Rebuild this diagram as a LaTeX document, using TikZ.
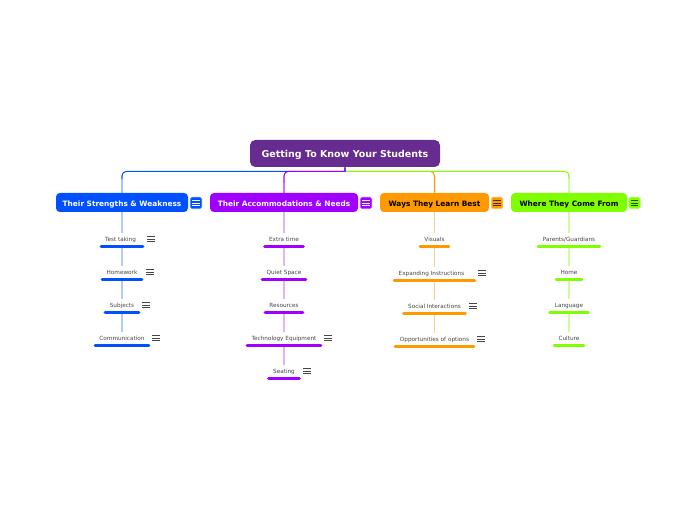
\documentclass[tikz,border=0pt]{standalone}
\usepackage{fontspec}
\setmainfont{DejaVu Sans}
\usetikzlibrary{calc}
\pgfdeclarelayer{bg}
\pgfsetlayers{bg,main}
\definecolor{cRoot}{HTML}{662C90}
\definecolor{cBlue}{HTML}{0050FF}
\definecolor{cPurple}{HTML}{A000FF}
\definecolor{cOrange}{HTML}{FF9900}
\definecolor{cGreen}{HTML}{80FF00}
\definecolor{cText}{RGB}{70,70,70}
\newcommand{\px}{0.02cm}

\begin{document}
\begin{tikzpicture}[x=0.02cm,y=-0.02cm,
    topic/.style={rounded corners=2.2pt, inner sep=0, minimum height=19*\px, text height=4pt, text depth=0pt, font=\fontsize{4.2}{5}\selectfont\bfseries},
    root/.style={topic, fill=cRoot, text=white, minimum width=190*\px, minimum height=27*\px, rounded corners=3pt, text height=4.6pt, font=\fontsize{5.4}{6}\selectfont\bfseries},
    note/.style={rounded corners=1pt, inner sep=0, minimum size=11.5*\px, fill=#1, draw=#1!65!white, line width=0.3pt},
    sub/.style={inner sep=0, minimum height=13*\px, text height=2.6pt, text depth=0.8pt, text=cText, font=\fontsize{3.25}{4}\selectfont},
    bar/.style={line width=1.6pt, line cap=round, shorten >=0.8pt, shorten <=0.8pt},
    link/.style={line width=0.6pt},
    menu/.pic={
      \draw[line width=0.3pt] (-3.7,-2.7) -- (3.7,-2.7) (-3.7,0) -- (3.7,0) (-3.7,2.7) -- (3.7,2.7);
    }]
      \useasboundingbox (0,0) rectangle (697,520);
      \node[root] (top) at (345,153.5) {Getting To Know Your Students};
      \node[topic, fill=cBlue, text=white, minimum width=132*\px] (strengths) at (122,202.5) {Their Strengths \& Weakness};
      \node[topic, fill=cPurple, text=white, minimum width=148*\px] (accom) at (284,202.5) {Their Accommodations \& Needs};
      \node[topic, fill=cOrange, text=black, minimum width=109*\px] (learn) at (434.5,202.5) {Ways They Learn Best};
      \node[topic, fill=cGreen, text=black, minimum width=116*\px] (from) at (569,202.5) {Where They Come From};

      \node[note=cBlue] (nstrengths) at (196,203) {};
      \node[note=cPurple] (naccom) at (366,203) {};
      \node[note=cOrange] (nlearn) at (497,203) {};
      \node[note=cGreen] (nfrom) at (634.5,203) {};
      \pic[color=white] at (nstrengths) {menu};
      \pic[color=white] at (naccom) {menu};
      \pic[color=black!70!cOrange] at (nlearn) {menu};
      \pic[color=black!70!cGreen] at (nfrom) {menu};

      % first column
      \node[sub, minimum width=44*\px] (test) at (122,240) {Test taking\hspace*{1.7pt}};
      \node[sub, minimum width=42*\px] (home) at (122,273) {Homework};
      \node[sub, minimum width=36*\px] (subj) at (122,306) {Subjects};
      \node[sub, minimum width=56*\px] (comm) at (122,339) {Communication};
      % second column
      \node[sub, minimum width=41*\px] (extra) at (284,240) {Extra time};
      \node[sub, minimum width=46*\px] (quiet) at (284,273) {Quiet Space};
      \node[sub, minimum width=40*\px] (res) at (284,306) {Resources};
      \node[sub, minimum width=76*\px] (tech) at (284,339) {Technology Equipment};
      \node[sub, minimum width=33*\px] (seat) at (284,372) {Seating};
      % third column
      \node[sub, minimum width=31*\px] (vis) at (434.5,240) {Visuals};
      \node[sub, minimum width=83*\px] (expand) at (434.5,274) {Expanding Instructions\hspace*{3.4pt}};
      \node[sub, minimum width=64*\px] (social) at (434.5,307) {Social Interactions};
      \node[sub, minimum width=81*\px] (opp) at (434.5,340) {Opportunities of options};
      % fourth column
      \node[sub, minimum width=64*\px] (parents) at (569,240) {Parents/Guardians};
      \node[sub, minimum width=28*\px] (house) at (569,273) {Home};
      \node[sub, minimum width=41*\px] (lang) at (569,306) {Language};
      \node[sub, minimum width=32*\px] (cult) at (569,339) {Culture};

      \foreach \a in {test,home,subj,comm} \draw[bar, cBlue] (\a.south west) -- (\a.south east);
      \foreach \a in {extra,quiet,res,tech,seat} \draw[bar, cPurple] (\a.south west) -- (\a.south east);
      \foreach \a in {vis,expand,social,opp} \draw[bar, cOrange] (\a.south west) -- (\a.south east);
      \foreach \a in {parents,house,lang,cult} \draw[bar, cGreen] (\a.south west) -- (\a.south east);

      \pic[color=cText] at (151,239) {menu};
      \pic[color=cText] at (150,272) {menu};
      \pic[color=cText] at (146,305) {menu};
      \pic[color=cText] at (156,338) {menu};
      \pic[color=cText] at (328,338) {menu};
      \pic[color=cText] at (307,371) {menu};
      \pic[color=cText] at (482,273) {menu};
      \pic[color=cText] at (473,306) {menu};
      \pic[color=cText] at (481,339) {menu};

      \begin{pgfonlayer}{bg}
	  \draw[link, cOrange] (top.south) -- ++(0,4) [rounded corners=2.5pt] -| (learn.north);
	  \draw[link, cGreen] (top.south) -- ++(0,4) [rounded corners=2.5pt] -| (from.north);
	  \draw[link, cBlue] (top.south) -- ++(0,4) [rounded corners=2.5pt] -| (strengths.north);
	  \draw[link, cPurple] (top.south) -- ++(0,4) [rounded corners=2.5pt] -| (accom.north);
	  % lower ends of the links are paler
	  \draw[link, cBlue!35!white] (strengths.north) -- ++(0,-14);
	  \draw[link, cPurple!55!white] (accom.north) -- ++(0,-10);
	  \draw[link, cGreen!40!white] (from.north) -- ++(0,-14);

	  \draw[link, cBlue!30] (strengths) -- (test) (test) -- (home) (home) -- (subj) (subj) -- (comm);
	  \draw[link, cPurple!30] (accom) -- (extra) (extra) -- (quiet) (quiet) -- (res) (res) -- (tech) (tech) -- (seat);
	  \draw[link, cOrange!50] (learn) -- (vis) (vis) -- (expand) (expand) -- (social) (social) -- (opp);
	  \draw[link, cGreen!40] (from) -- (parents) (parents) -- (house) (house) -- (lang) (lang) -- (cult);
      \end{pgfonlayer}
    \end{tikzpicture}
\end{document}
